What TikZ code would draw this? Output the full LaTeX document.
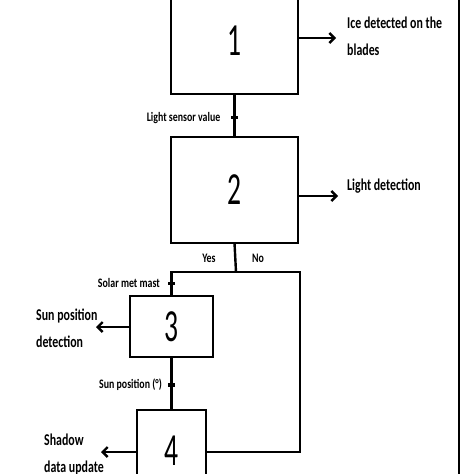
\documentclass[tikz,border=0pt]{standalone}
\usepackage{fontspec}
\setmainfont{Carlito}
\usetikzlibrary{arrows.meta,calc}
\newcommand{\digit}[1]{\scalebox{0.6}[1]{\fontsize{46}{46}\selectfont #1}}
\newcommand{\lbl}[1]{\scalebox{0.72}[1]{\fontsize{16.5}{19}\selectfont\bfseries #1}}
\newcommand{\slbl}[1]{\scalebox{0.76}[1]{\fontsize{13}{14}\selectfont\bfseries #1}}
\begin{document}
\begin{tikzpicture}[x=1pt,y=-1pt,
  line width=2.4pt,
  box/.style={draw,line width=2.4pt,inner sep=0pt,outer sep=0pt},
  outarr/.style={-{Straight Barb[length=5pt,width=10pt,line width=2.4pt]}},
  tickmark/.style={line width=3.5pt},
  txt/.style={inner sep=0pt,align=left},
  two/.style={txt,font=\fontsize{16.5}{27}\selectfont}]
\useasboundingbox (0,0) rectangle (474,474);
\clip (0,0) rectangle (474,474);
% boxes
\node[box,minimum width=127pt,minimum height=106pt] (b1) at (234.5,41) {};
\node[inner sep=0pt] (n1) at (b1.center) {\digit{1}};
\node[box,minimum width=127pt,minimum height=106pt] (b2) at (234.5,190) {\digit{2}};
\node[box,minimum width=83pt,minimum height=61pt] (b3) at (171.5,326.5) {\digit{3}};
\node[box,minimum width=69pt,minimum height=84pt] (b4) at (171.5,452) {};
\node[inner sep=0pt,anchor=base] (n4) at (171.5,465) {\digit{4}};
% right frame line
\coordinate (ft) at (459,-5);
\coordinate (fb) at (459,480);
\draw (ft) -- (fb);
% 1 -> 2
\draw (b1.south) -- (b2.north);
\coordinate (t1) at ($(b1.south)!0.55!(b2.north)$);
\draw[tickmark] ($(t1)+(-3.5,0)$) -- ($(t1)+(3.5,0)$);
\node[txt,anchor=east] (l1) at ($(t1)+(-13,0)$) {\slbl{Light sensor value}};
% outputs right
\coordinate (o1) at (336,38);
\draw[outarr] (b1.east |- o1) -- (o1);
\node[two,anchor=west] (ice) at (346,36) {\lbl{Ice detected on the}\\\lbl{blades}};
\coordinate (o2) at (338,196);
\draw[outarr] (b2.east |- o2) -- (o2);
\node[txt,anchor=west] (ld) at (346,186) {\lbl{Light detection}};
% split
\coordinate (sp) at (236,272);
\coordinate (spl) at (171.5,272);
\coordinate (spr) at (300,272);
\coordinate (cr) at (300,452);
\draw (b2.south) -- (sp);
\draw (b3.north) -- (spl) -- (spr) -- (cr) -- (b4.east);
\node[txt] (yes) at (209,258) {\slbl{Yes}};
\node[txt] (no) at (258,258) {\slbl{No}};
\coordinate (t2) at (171.5,283.5);
\draw[tickmark] ($(t2)+(-3.5,0)$) -- ($(t2)+(3.5,0)$);
\node[txt,anchor=east] (sm) at (161,283) {\slbl{Solar met mast}};
% 3 -> 4
\draw (b3.south) -- (b4.north);
\coordinate (t3) at (171.5,385);
\draw[tickmark] ($(t3)+(-3.5,0)$) -- ($(t3)+(3.5,0)$);
\node[txt,anchor=east] (sp4) at (163,385) {\slbl{Sun position (°)}};
% outputs left
\coordinate (o3) at (96,327);
\draw[outarr] (b3.west |- o3) -- (o3);
\node[two,anchor=west] (spd) at (35,328) {\lbl{Sun position}\\\lbl{detection}};
\coordinate (o4) at (101,452);
\draw[outarr] (b4.west |- o4) -- (o4);
\node[two,anchor=west] (sdu) at (43,455) {\lbl{Shadow}\\\lbl{data update}};
\end{tikzpicture}
\end{document}
